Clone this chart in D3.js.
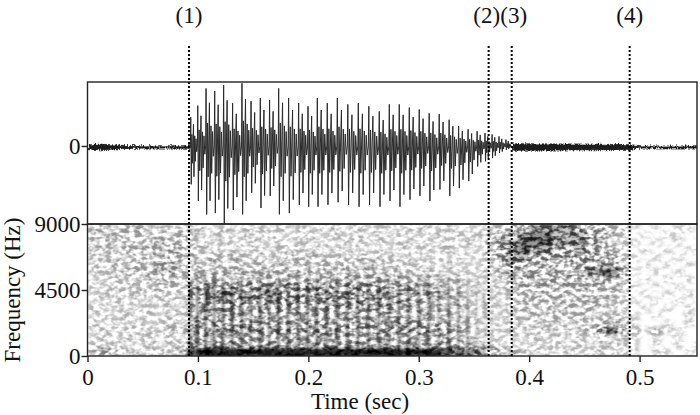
<!DOCTYPE html>
<html>
<head>
<meta charset="utf-8">
<script src="https://cdn.jsdelivr.net/npm/d3@7"></script>
<style>
body { margin: 0; background: #fff; }
</style>
</head>
<body>
<div class="chart-div"></div>
<script>
//--------------------------- Data

// glottal pulses of the vowel: time (s), positive and negative peak (waveform units)
var pulseTimes = [0.0932, 0.0995, 0.1070, 0.1148, 0.1229, 0.1310, 0.1395, 0.1477, 0.1561, 0.1645,
                  0.1727, 0.1817, 0.1908, 0.1993, 0.2077, 0.2167, 0.2258, 0.2353, 0.2448, 0.2543,
                  0.2638, 0.2729, 0.2819, 0.2910, 0.3000, 0.3090, 0.3181, 0.3271, 0.3357, 0.3443,
                  0.3525, 0.3597, 0.3661, 0.3724, 0.3787];
var pulseHigh = [0.45, 0.63, 0.90, 0.86, 0.95, 0.67, 0.98, 0.70, 0.75, 0.72,
                 0.90, 0.75, 0.67, 0.62, 0.75, 0.67, 0.75, 0.65, 0.67, 0.62,
                 0.54, 0.65, 0.65, 0.60, 0.57, 0.51, 0.50, 0.41, 0.31, 0.26,
                 0.23, 0.20, 0.18, 0.15, 0.10];
var pulseLow = [-0.60, -0.86, -1.07, -1.05, -1.22, -1.00, -1.07, -0.73, -0.97, -0.78,
                -1.07, -1.05, -0.92, -0.95, -0.95, -0.92, -0.88, -0.92, -0.95, -0.92,
                -0.95, -0.86, -0.95, -0.84, -0.78, -0.86, -0.68, -0.78, -0.66, -0.55,
                -0.32, -0.24, -0.19, -0.11, -0.06];
var voicingStart = 0.092;
var voicingEnd = 0.384;

// shape of one pitch period, relative to the peaks of its pulse
var periodPhase = [0, 0.05, 0.12, 0.21, 0.29, 0.44, 0.51, 0.62, 0.7, 0.8, 0.9];
var periodShape = [0, 1, -1, 0.4, -0.45, 0.75, -0.8, 0.35, -0.4, 0.25, -0.15];

// noise envelope outside the vowel (null = vowel)
var noiseTimes = [0, 0.01, 0.02, 0.03, 0.05, 0.07, 0.092, 0.2, 0.384, 0.39, 0.42, 0.45, 0.47, 0.49, 0.5, 0.52, 0.552];
var noiseAmps = [0.03, 0.045, 0.035, 0.025, 0.018, 0.018, 0.02, null, 0.05, 0.05, 0.048, 0.045, 0.042, 0.035, 0.018, 0.015, 0.018];

// spectrogram darkness 0-9, rows from 9000 Hz down to 0 Hz (500 Hz bands), columns of 0.01 s
var specRows = [
    "332332222 2 21212212121221212112 212111 23 4 5666655432 1010110",
    "323332323 2 12212121122121212121 121212 24 5 6776665432 0101101",
    "232323333 2 21212212121212212122 112121 35 6 7776665422 1010100",
    "222333343 3 22121212222121212121 212111 35 6 7665565432 0101011",
    "222223343 3 23232222323222322212 121211 25 6 6555555442 1010100",
    "223232443 3 23232323232323232222 212111 24 5 4444445553 0101010",
    "222333443 3 33333333333333332322 221211 23 4 4444446775 1010100",
    "122223332 3 33333333333333333332 222211 12 3 4444444443 0101010",
    "212222332 4 55555555555555555444 432211 12 3 4343434332 1010100",
    "122222222 4 55655565555555555444 432211 11 2 3333333332 0101010",
    "112121221 4 55555555555555555443 322211 11 2 3333333322 1010101",
    "211212121 3 44444444444444444433 322211 11 2 3232323222 0101010",
    "121212122 3 33333333333333333333 322211 11 2 2323232222 1010010",
    "212121222 4 44444444444444444444 443221 11 2 2222222333 1001010",
    "121222232 5 55555555555555555555 554321 11 2 2222223575 2131100",
    "121212221 3 33333333333333333333 333221 11 1 1212121212 1010100",
    "222112122 4 44444444444444444444 444332 21 1 1212121222 1010101",
    "343222223 8 99999999999999999999 998776 54 3 2121212222 1011010"
];
var specColWidth = 0.01;
var specRowHeight = 500;
var striationTop = 6000;

var eventTimes = [0.0919, 0.3633, 0.3842, 0.4910];
var eventLabels = ["(1)", "(2)", "(3)", "(4)"];
var eventShift = [0, -2, 2, 0];

var timeTicks = [0, 0.1, 0.2, 0.3, 0.4, 0.5];
var freqTicks = [0, 4500, 9000];
var waveTicks = [0];

//--------------------------- SVG definition

var width = 700;
var height = 415;
var left = 87.5, right = 697;
var waveTop = 82, waveBottom = 224;
var specTop = 224, specBottom = 356;
var font = "'Liberation Serif', 'Times New Roman', serif";
var fontSize = 23;

var svg = d3.select("div.chart-div")
    .append("svg")
    .attr("width", width)
    .attr("height", height)

var x = d3.scaleLinear().domain([0, 0.552]).range([left, right]);
var yWave = d3.scaleLinear().domain([-1.22, 1]).range([waveBottom, waveTop]);
var ySpec = d3.scaleLinear().domain([0, 9000]).range([specBottom, specTop]);

//--------------------------- Clips, gradient and filters

var defs = svg.append("defs")

defs.append("clipPath").attr("id", "waveclip")
    .append("rect")
    .attr("x", left).attr("y", waveTop)
    .attr("width", right - left).attr("height", waveBottom - waveTop)

defs.append("clipPath").attr("id", "specclip")
    .append("rect")
    .attr("x", left).attr("y", specTop)
    .attr("width", right - left).attr("height", specBottom - specTop)

var fade = defs.append("linearGradient")
    .attr("id", "stripefade")
    .attr("x1", 0).attr("y1", 0).attr("x2", 0).attr("y2", 1)
fade.append("stop").attr("offset", 0).attr("stop-color", "#000").attr("stop-opacity", 0)
fade.append("stop").attr("offset", 0.3).attr("stop-color", "#000").attr("stop-opacity", 1)
fade.append("stop").attr("offset", 0.6).attr("stop-color", "#000").attr("stop-opacity", 0.75)
fade.append("stop").attr("offset", 1).attr("stop-color", "#000").attr("stop-opacity", 1)

// speckled texture for the spectrogram
var speckle = defs.append("filter")
    .attr("id", "speckle")
    .attr("filterUnits", "userSpaceOnUse")
    .attr("x", left).attr("y", specTop)
    .attr("width", right - left).attr("height", specBottom - specTop)
    .attr("color-interpolation-filters", "sRGB")

speckle.append("feGaussianBlur")
    .attr("in", "SourceGraphic")
    .attr("stdDeviation", "2 1.8")
    .attr("result", "soft")
speckle.append("feTurbulence")
    .attr("type", "fractalNoise")
    .attr("baseFrequency", "0.17 0.24")
    .attr("numOctaves", 2)
    .attr("seed", 11)
    .attr("result", "noise")
speckle.append("feColorMatrix")
    .attr("in", "noise")
    .attr("type", "matrix")
    .attr("values", "0 0 0 0 0  0 0 0 0 0  0 0 0 0 0  3.4 0 0 0 -1.25")
    .attr("result", "mask")
speckle.append("feComposite")
    .attr("in", "soft")
    .attr("in2", "mask")
    .attr("operator", "in")

// plain smoothing for the solid layer
defs.append("filter")
    .attr("id", "smooth")
    .attr("filterUnits", "userSpaceOnUse")
    .attr("x", left).attr("y", specTop)
    .attr("width", right - left).attr("height", specBottom - specTop)
    .append("feGaussianBlur")
    .attr("stdDeviation", "1 1.5")

// jagged edge for the noise trace
var jag = defs.append("filter")
    .attr("id", "jag")
    .attr("x", "-1%").attr("y", "-200%")
    .attr("width", "102%").attr("height", "500%")
jag.append("feTurbulence")
    .attr("type", "turbulence")
    .attr("baseFrequency", "0.6 0.3")
    .attr("numOctaves", 1)
    .attr("seed", 3)
    .attr("result", "t")
jag.append("feDisplacementMap")
    .attr("in", "SourceGraphic")
    .attr("in2", "t")
    .attr("scale", 4)
    .attr("xChannelSelector", "R")
    .attr("yChannelSelector", "G")

//--------------------------- Spectrogram

var cells = [];
specRows.forEach(function (row, r) {
    row.replace(/ /g, "").split("").forEach(function (ch, c) {
        cells.push({ t0: c * specColWidth, f1: 9000 - r * specRowHeight, level: +ch });
    });
});

var specclip = svg.append("g").attr("clip-path", "url(#specclip)")

function drawStripes(g, strength) {
    g.selectAll("rect.pulse").data(pulseTimes).enter()
        .append("rect")
        .attr("class", "pulse")
        .attr("x", function (d) { return x(d) - 1.6; })
        .attr("y", ySpec(striationTop))
        .attr("width", 3.2)
        .attr("height", ySpec(0) - ySpec(striationTop))
        .attr("fill", "url(#stripefade)")
        .attr("fill-opacity", function (d, i) { return strength * Math.min(1, -pulseLow[i]); })
}

// solid layer: strong energy and pitch striations
var solid = specclip.append("g").attr("filter", "url(#smooth)")

solid.selectAll("rect.cell").data(cells.filter(function (d) { return d.level > 5; })).enter()
    .append("rect")
    .attr("class", "cell")
    .attr("x", function (d) { return x(d.t0); })
    .attr("y", function (d) { return ySpec(d.f1); })
    .attr("width", x(specColWidth) - x(0) + 0.5)
    .attr("height", ySpec(0) - ySpec(specRowHeight) + 0.5)
    .attr("fill", "#000")
    .attr("fill-opacity", function (d) { return (d.level - 5) * 0.2; })

drawStripes(solid, 0.5)

// speckled layer
var spec = specclip.append("g").attr("filter", "url(#speckle)")

spec.selectAll("rect.cell").data(cells.filter(function (d) { return d.level > 0; })).enter()
    .append("rect")
    .attr("class", "cell")
    .attr("x", function (d) { return x(d.t0); })
    .attr("y", function (d) { return ySpec(d.f1); })
    .attr("width", x(specColWidth) - x(0) + 0.5)
    .attr("height", ySpec(0) - ySpec(specRowHeight) + 0.5)
    .attr("fill", "#000")
    .attr("fill-opacity", function (d) { return Math.min(1, 0.1 + d.level * 0.1); })

drawStripes(spec, 0.5)

//--------------------------- Waveform

var noise = noiseTimes.map(function (t, i) { return { t: t, a: noiseAmps[i] }; });

var wave = [{ t: voicingStart, a: 0 }];
pulseTimes.forEach(function (t, i) {
    var period = (i < pulseTimes.length - 1 ? pulseTimes[i + 1] : voicingEnd) - t;
    periodPhase.forEach(function (p, k) {
        var s = periodShape[k];
        wave.push({ t: t + p * period, a: s >= 0 ? s * pulseHigh[i] : -s * pulseLow[i] });
    });
});
wave.push({ t: voicingEnd, a: 0 });

var wavegroup = svg.append("g").attr("clip-path", "url(#waveclip)")

wavegroup.append("path")
    .datum(noise)
    .attr("d", d3.area()
        .defined(function (d) { return d.a !== null; })
        .x(function (d) { return x(d.t); })
        .y0(function (d) { return yWave(-d.a); })
        .y1(function (d) { return yWave(d.a); }))
    .attr("fill", "#1e1e1e")
    .attr("stroke", "#1e1e1e")
    .attr("stroke-width", 0.8)
    .attr("filter", "url(#jag)")

wavegroup.append("path")
    .datum(wave)
    .attr("d", d3.line()
        .x(function (d) { return x(d.t); })
        .y(function (d) { return yWave(d.a); }))
    .attr("fill", "none")
    .attr("stroke", "#2a2a2a")
    .attr("stroke-width", 1)

//--------------------------- Frames and axes

svg.append("rect")
    .attr("x", left).attr("y", waveTop)
    .attr("width", right - left).attr("height", waveBottom - waveTop)
    .attr("fill", "none").attr("stroke", "#222").attr("stroke-width", 1.4)

svg.append("rect")
    .attr("x", left).attr("y", specTop)
    .attr("width", right - left).attr("height", specBottom - specTop)
    .attr("fill", "none").attr("stroke", "#222").attr("stroke-width", 1.4)

function styleAxis(g) {
    g.select(".domain").remove();
    g.attr("font-family", null).attr("font-size", null);
    g.selectAll("line").attr("stroke", "#222").attr("stroke-width", 1.4);
    g.selectAll("text")
        .style("font-family", font)
        .style("font-size", fontSize + "px")
        .style("fill", "#111");
}

svg.append("g")
    .attr("transform", "translate(0," + specBottom + ")")
    .call(d3.axisBottom(x).tickValues(timeTicks).tickSize(6).tickPadding(7)
        .tickFormat(function (d) { return d === 0 ? "0" : d3.format(".1f")(d); }))
    .call(styleAxis)

svg.append("g")
    .attr("transform", "translate(" + left + ",0)")
    .call(d3.axisLeft(ySpec).tickValues(freqTicks).tickSize(6).tickPadding(1)
        .tickFormat(d3.format("d")))
    .call(styleAxis)

svg.append("g")
    .attr("transform", "translate(" + left + ",0)")
    .call(d3.axisLeft(yWave).tickValues(waveTicks).tickSize(6).tickPadding(1)
        .tickFormat(d3.format("d")))
    .call(styleAxis)

svg.append("text")
    .attr("x", 360)
    .attr("y", 409)
    .style("text-anchor", "middle")
    .text("Time (sec)")
    .style("font-family", font)
    .style("font-size", fontSize + "px")
    .style("fill", "#111")

svg.append("text")
    .attr("transform", "translate(20," + ((specTop + specBottom) / 2) + ") rotate(-90)")
    .style("text-anchor", "middle")
    .text("Frequency (Hz)")
    .style("font-family", font)
    .style("font-size", fontSize + "px")
    .style("fill", "#111")

//--------------------------- Event markers (1)-(4)

svg.selectAll("line.event").data(eventTimes).enter()
    .append("line")
    .attr("class", "event")
    .attr("x1", function (d) { return x(d); })
    .attr("x2", function (d) { return x(d); })
    .attr("y1", 46)
    .attr("y2", specBottom)
    .attr("stroke", "#000")
    .attr("stroke-width", 2)
    .attr("stroke-dasharray", "2,2")

svg.selectAll("text.event").data(eventTimes).enter()
    .append("text")
    .attr("class", "event")
    .attr("x", function (d, i) { return x(d) + eventShift[i]; })
    .attr("y", 23)
    .style("text-anchor", "middle")
    .text(function (d, i) { return eventLabels[i]; })
    .style("font-family", font)
    .style("font-size", fontSize + "px")
    .style("fill", "#111")
</script>
</body>
</html>
